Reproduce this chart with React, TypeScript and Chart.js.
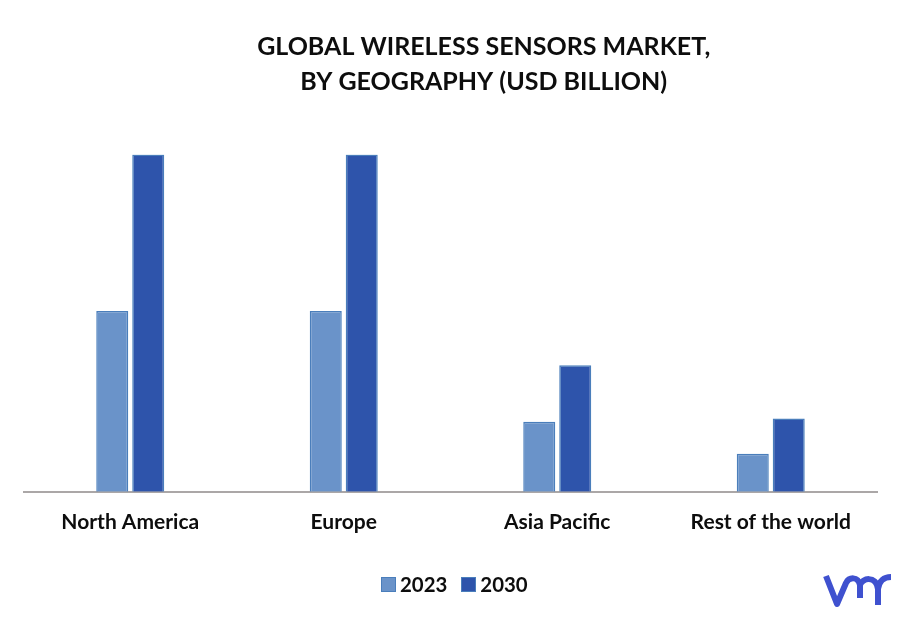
import { useEffect, useRef } from "react"
import { Chart, registerables } from "chart.js"

Chart.register(...registerables)

const categories = ["North America", "Europe", "Asia Pacific", "Rest of the world"]
const values2023 = [5.36, 5.36, 2.08, 1.13]
const values2030 = [10, 10, 3.75, 2.17]
const seriesNames = ["2023", "2030"]
const seriesColors = ["#6a93c9", "#2e54ab"]
const titleLines = ["GLOBAL WIRELESS SENSORS MARKET,", "BY GEOGRAPHY (USD BILLION)"]

const fontFamily = "Lato, 'Open Sans', sans-serif"
const textColor = "#0d0d0d"

// the title sits right of the canvas centre in the reference
const shiftTitle = {
  id: "shiftTitle",
  afterLayout(chart: any) {
    if (chart.titleBlock) chart.titleBlock.left = 90
  },
}

export default function App() {
  const canvasRef = useRef<HTMLCanvasElement>(null)

  useEffect(() => {
    document.body.style.margin = "0"
    if (!canvasRef.current) return

    const chart = new Chart(canvasRef.current, {
      type: "bar",
      data: {
        labels: categories,
        datasets: [
          {
            label: seriesNames[0],
            data: values2023,
            backgroundColor: seriesColors[0],
            borderColor: "#4a7ebb",
            borderWidth: 1.5,
            barPercentage: 0.89,
            categoryPercentage: 0.337,
          },
          {
            label: seriesNames[1],
            data: values2030,
            backgroundColor: seriesColors[1],
            borderColor: "#4a7ebb",
            borderWidth: 1.5,
            barPercentage: 0.89,
            categoryPercentage: 0.337,
          },
        ],
      },
      options: {
        responsive: false,
        animation: false,
        layout: { padding: { left: 23.5, right: 23.5, top: 29, bottom: 72 } },
        plugins: {
          title: {
            display: true,
            text: titleLines,
            color: textColor,
            font: { family: fontFamily, size: 25, weight: "bold", lineHeight: 1.4 },
            padding: { top: 0, bottom: 55.5 },
          },
          legend: { display: false },
          tooltip: { enabled: false },
        },
        scales: {
          x: {
            grid: { display: false },
            border: { color: "#aba7a7", width: 2 },
            ticks: {
              color: textColor,
              font: { family: fontFamily, size: 21, weight: "bold" },
              padding: 10,
              maxRotation: 0,
            },
          },
          y: {
            display: false,
            min: 0,
            max: 10,
          },
        },
      },
      plugins: [shiftTitle],
    })

    return () => chart.destroy()
  }, [])

  return (
    <div style={{ position: "relative", width: 901, height: 617 }}>
      <canvas ref={canvasRef} width={901} height={617} style={{ display: "block" }} />
      <div
        style={{
          position: "absolute",
          left: 381,
          top: 572,
          height: 24,
          display: "flex",
          alignItems: "center",
          fontFamily,
          fontSize: 20.4,
          fontWeight: 700,
          color: textColor,
        }}
      >
        {seriesNames.map((name, i) => (
          <span key={name} style={{ display: "flex", alignItems: "center", marginRight: 14 }}>
            <span
              style={{
                width: 13,
                height: 13,
                marginRight: 4,
                background: seriesColors[i],
                border: "1.5px solid #4a7ebb",
              }}
            />
            {name}
          </span>
        ))}
      </div>
      {/* vm logo, bottom right */}
      <svg
        width="72"
        height="36"
        viewBox="0 0 72 36"
        style={{ position: "absolute", left: 822, top: 573 }}
        fill="none"
        stroke="#3f51cf"
        strokeWidth="6"
        strokeLinejoin="round"
      >
        <path d="M4 3 L15 31 L24 10 C27 4 36 3 38 12 L38 25" />
        <path d="M38 12 C40 5 54 2 56 16 L56 32" />
        <path d="M56 16 C57 8 62 4 69 4" />
      </svg>
    </div>
  )
}
